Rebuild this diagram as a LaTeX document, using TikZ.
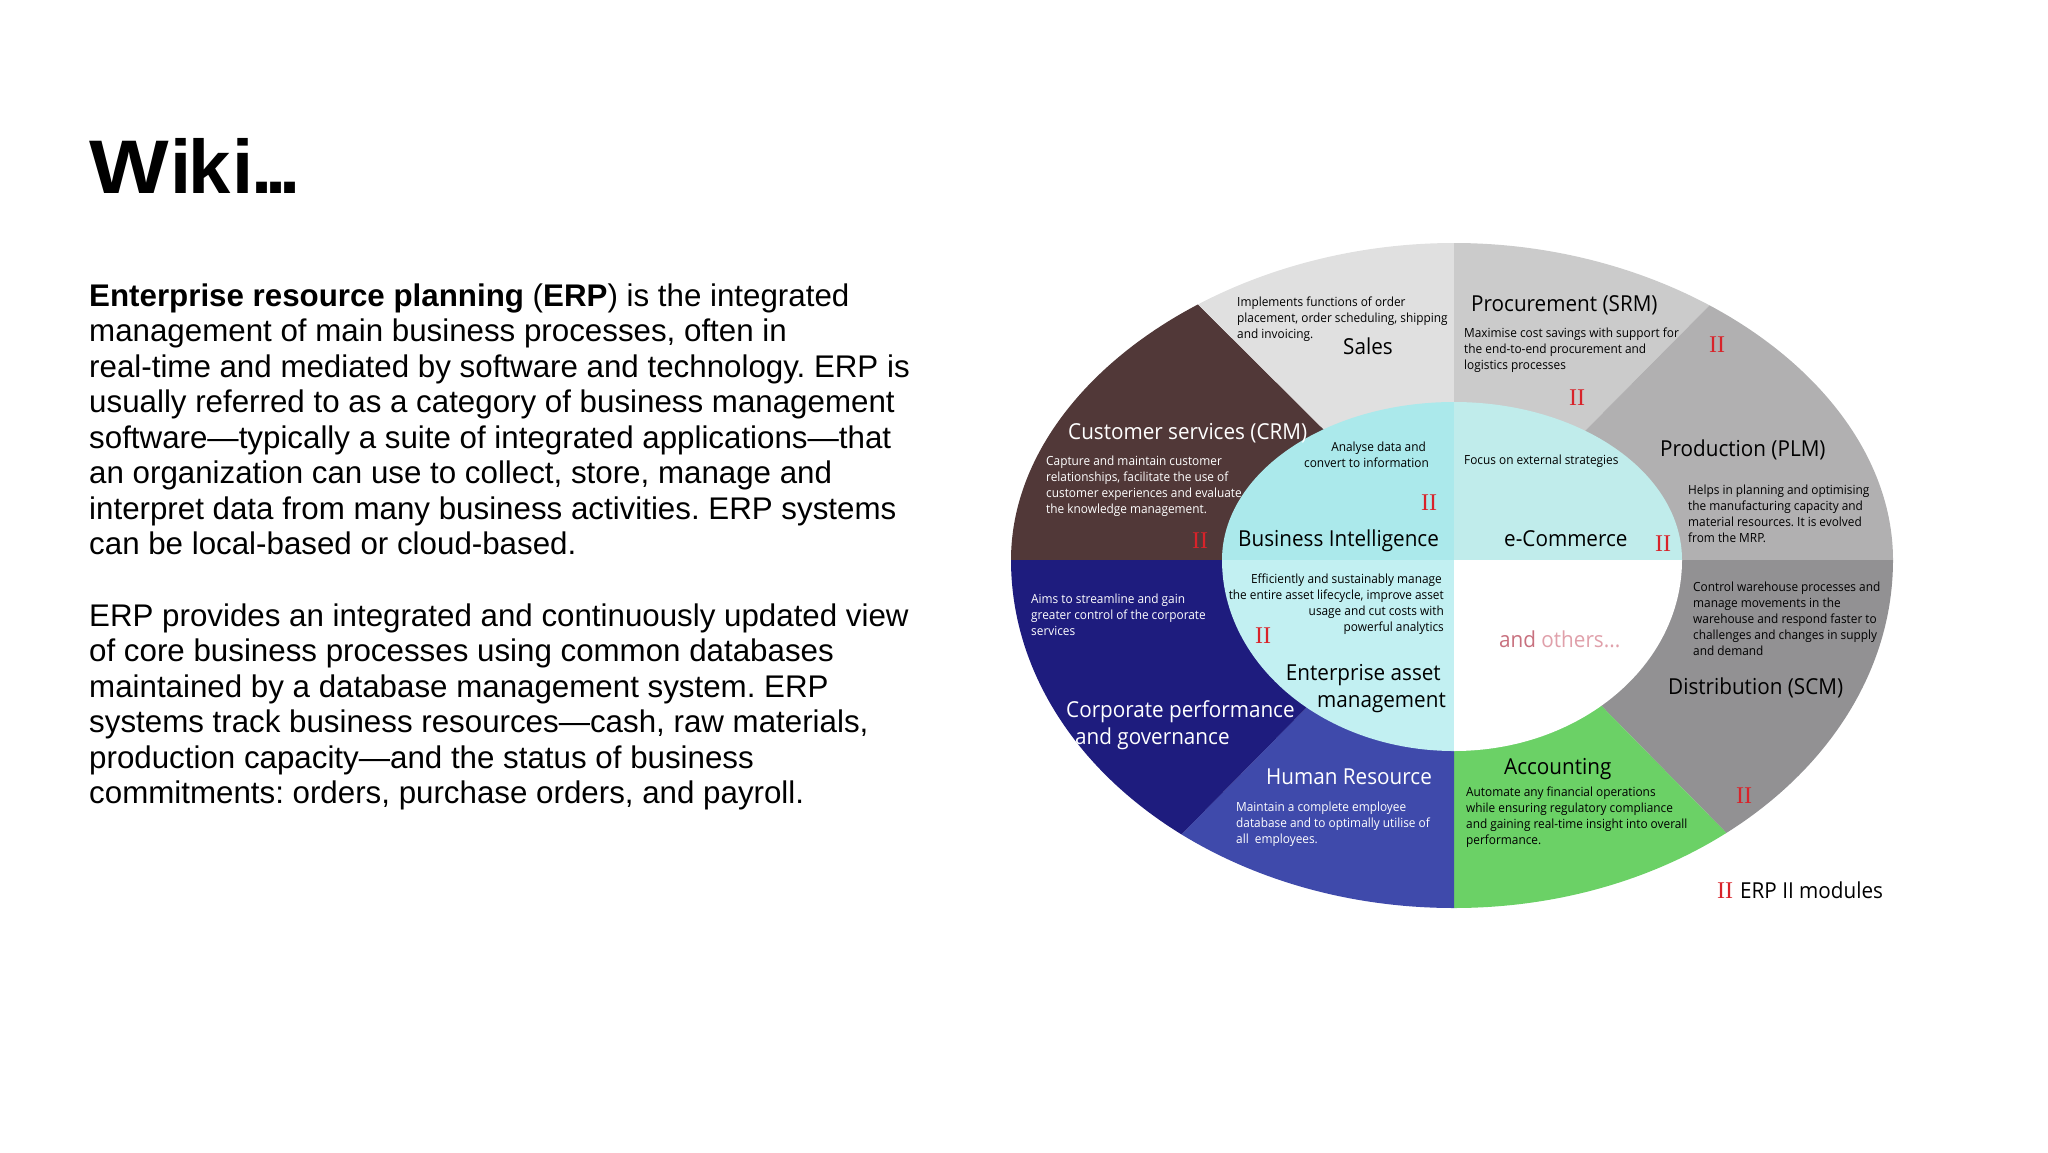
\documentclass[tikz,border=0pt]{standalone}
\usepackage{fontspec}
\setmainfont{Liberation Sans}
\newfontfamily\chartfont[FakeStretch=0.94]{Open Sans}
\newfontfamily\markfont{Liberation Serif}
\usepackage{tikz}
\definecolor{salescol}{HTML}{E0E0E0}
\definecolor{srmcol}{HTML}{CBCBCB}
\definecolor{plmcol}{HTML}{B1B0B1}
\definecolor{scmcol}{HTML}{929193}
\definecolor{acccol}{HTML}{6BD166}
\definecolor{hrcol}{HTML}{3F4AAB}
\definecolor{corpcol}{HTML}{1E1C7E}
\definecolor{crmcol}{HTML}{513838}
\definecolor{bicol}{HTML}{ABE9EB}
\definecolor{ecomcol}{HTML}{C0ECEB}
\definecolor{eamcol}{HTML}{C2F0F2}
\definecolor{markred}{HTML}{D8232A}
\tikzset{body text/.style={
  anchor=north west,
  inner sep=0pt,
  align=left,
  font=\frenchspacing\fontsize{31.3}{35.5}\selectfont
  }
}
\tikzset{module name/.style={
  anchor=base west,
  inner sep=0pt,
  align=left,
  font=\chartfont\fontsize{22}{27.5}\selectfont
  }
}
\tikzset{module note/.style={
  anchor=north west,
  inner sep=0pt,
  align=left,
  font=\chartfont\frenchspacing\fontsize{12.6}{16}\selectfont
  }
}
\tikzset{erp mark/.style={
  inner sep=0pt,
  text=markred,
  font=\markfont\fontsize{24}{24}\selectfont
  }
}
\begin{document}
\begin{tikzpicture}[x=1pt,y=-1pt]
    \useasboundingbox (0,0) rectangle (2048,1152);

    \node[anchor=base west,inner sep=0pt,font=\bfseries\fontsize{76}{76}\selectfont] (title) at (89,193) {\scalebox{1.11}[1]{W}\kern1.4pt i\kern-2.5pt k\kern1.5pt i\kern-2.5pt.\kern-7pt.\kern-7pt.};
    \node[body text] (para1) at (89,283.5) {\textbf{Enterprise resource planning} (\textbf{ERP}) is the integrated\\management of main business processes, often in\\real-time and mediated by software and technology. ERP is\\usually referred to as a category of business management\\software---typically a suite of integrated applications---that\\an organization can use to collect, store, manage and\\interpret data from many business activities. ERP systems\\can be local-based or cloud-based.};
    \node[body text] (para2) at (89,603.5) {ERP provides an integrated and continuously updated view\\of core business processes using common databases\\maintained by a database management system. ERP\\systems track business resources---cash, raw materials,\\production capacity---and the status of business\\commitments: orders, purchase orders, and payroll.};

    \begin{scope}
        \clip (1011,560) .. controls (1011,390) and (1217,243) .. (1454,243)
            .. controls (1689,243) and (1893,390) .. (1893,560)
            arc[start angle=0,end angle=90,x radius=439,y radius=348]
            arc[start angle=90,end angle=180,x radius=443,y radius=348] -- cycle;
        \foreach \c/\p in {
            crmcol/{(1000,560)--(1000,207)--(1100,207)--(1455,560)},
            salescol/{(1454,560)--(1454,200)--(1100,200)--(1100,207)--(1455,560)},
            srmcol/{(1454,200)--(1800,200)--(1800,214)--(1457,560)--(1454,560)},
            plmcol/{(1800,214)--(1920,214)--(1920,560)--(1457,560)},
            scmcol/{(1920,560)--(1920,920)--(1812,920)--(1458,560)},
            acccol/{(1454,560)--(1458,560)--(1812,920)--(1454,920)},
            hrcol/{(1454,560)--(1454,920)--(1097,920)--(1452,560)},
            corpcol/{(1000,560)--(1000,920)--(1097,920)--(1452,560)}}
            \fill[\c] \p -- cycle;
    \end{scope}
    \fill[bicol] (1222,560) arc[start angle=180,end angle=270,x radius=232,y radius=158] -- (1454,560) -- cycle;
    \fill[ecomcol] (1454,402) arc[start angle=270,end angle=360,x radius=228,y radius=158] -- (1454,560) -- cycle;
    \fill[eamcol] (1454,751) arc[start angle=90,end angle=180,x radius=232,y radius=191] -- (1454,560) -- cycle;
    \fill[white] (1682,560) arc[start angle=0,end angle=90,x radius=228,y radius=191] -- (1454,560) -- cycle;

    \node[module name] (sales) at (1343,354) {Sales};
    \node[module name] (srm) at (1471,311) {Procurement (SRM)};
    \node[module name] (plm) at (1660,456) {Production (PLM)};
    \node[module name,text=white] (crm) at (1068,439) {Customer services (CRM)};
    \node[module name] (bi) at (1238,546) {Business Intelligence};
    \node[module name] (ecom) at (1504,546) {e-Commerce};
    \node[module name] (scm) at (1668,694) {Distribution (SCM)};
    \node[module name,text=white] (corp) at (1066,744.5) {Corporate performance\\\hspace*{9pt}and governance};
    \node[module name,align=right,anchor=base east] (eam) at (1446,707.5) {Enterprise asset\hspace*{5pt}\\management};
    \node[module name,text=white] (hr) at (1266,784) {Human Resource};
    \node[module name] (acc) at (1504,774) {Accounting};
    \node[module name] (others) at (1499,647) {\textcolor[HTML]{C8707E}{and} \textcolor[HTML]{E0A0AA}{others...}};

    \node[module note] (salesn) at (1237,297) {Implements functions of order\\placement, order scheduling, shipping\\and invoicing.};
    \node[module note] (srmn) at (1464,328) {Maximise cost savings with support for\\the end-to-end procurement and\\logistics processes};
    \node[module note] (plmn) at (1688,485) {Helps in planning and optimising\\the manufacturing capacity and\\material resources. It is evolved\\from the MRP.};
    \node[module note,text=white] (crmn) at (1046,456) {Capture and maintain customer\\relationships, facilitate the use of\\customer experiences and evaluate\\the knowledge management.};
    \node[module note,align=right,anchor=north east] (bin) at (1429,442) {Analyse data and\hspace*{3pt}\\convert to information};
    \node[module note] (ecomn) at (1464,455) {Focus on external strategies};
    \node[module note,align=right,anchor=north east] (eamn) at (1444,574) {Efficiently and sustainably manage\hspace*{2pt}\\the entire asset lifecycle, improve asset\hspace*{2pt}\\usage and cut costs with\hspace*{2pt}\\powerful analytics};
    \node[module note,text=white] (corpn) at (1031,594) {Aims to streamline and gain\\greater control of the corporate\\services};
    \node[module note] (scmn) at (1693,582) {Control warehouse processes and\\manage movements in the\\warehouse and respond faster to\\challenges and changes in supply\\and demand};
    \node[module note,text=white] (hrn) at (1236,802) {Maintain a complete employee\\database and to optimally utilise of\\all\ \ employees.};
    \node[module note] (accn) at (1466,787) {Automate any financial operations\\while ensuring regulatory compliance\\and gaining real-time insight into overall\\performance.};

    \foreach \x/\y [count=\n] in {1717/345,1577/398,1429/503,1200/541,1663/544,1263/636,1744/796,1725/891}
        \node[erp mark] (M\n) at (\x,\y) {II};
    \node[module name] (legend) at (1740,898) {ERP II modules};
\end{tikzpicture}
\end{document}
